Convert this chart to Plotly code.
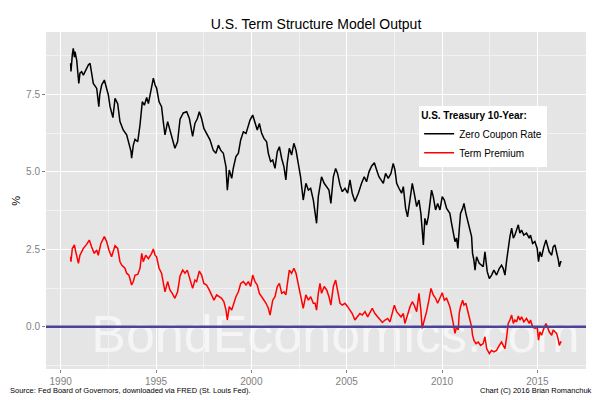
import plotly.graph_objects as go

FONT = "Liberation Sans, Arial, sans-serif"

# U.S. Treasury 10-year zero coupon rate (%)
zcr_year = [
    1990.52, 1990.54, 1990.61, 1990.66, 1990.72, 1990.75, 1990.84, 1990.90,
    1990.93, 1990.95, 1991.01, 1991.10, 1991.19, 1991.27, 1991.36, 1991.45,
    1991.54, 1991.62, 1991.71, 1991.89, 1991.97, 1992.00, 1992.05, 1992.15,
    1992.29, 1992.41, 1992.50, 1992.59, 1992.71, 1992.74, 1992.85, 1992.99,
    1993.11, 1993.28, 1993.46, 1993.55, 1993.69, 1993.72, 1993.81, 1993.90,
    1994.04, 1994.16, 1994.28, 1994.39, 1994.51, 1994.60, 1994.77, 1994.86,
    1994.95, 1995.03, 1995.16, 1995.29, 1995.38, 1995.47, 1995.61, 1995.73,
    1995.85, 1995.99, 1996.13, 1996.26, 1996.43, 1996.61, 1996.75, 1996.87,
    1996.92, 1997.04, 1997.17, 1997.27, 1997.39, 1997.51, 1997.65, 1997.83,
    1998.00, 1998.14, 1998.27, 1998.39, 1998.53, 1998.67, 1998.74, 1998.84,
    1998.97, 1999.05, 1999.19, 1999.32, 1999.44, 1999.58, 1999.72, 1999.84,
    1999.93, 2000.07, 2000.19, 2000.31, 2000.42, 2000.54, 2000.66, 2000.80,
    2000.89, 2001.01, 2001.12, 2001.24, 2001.36, 2001.47, 2001.59, 2001.71,
    2001.81, 2001.88, 2001.99, 2002.11, 2002.23, 2002.34, 2002.46, 2002.58,
    2002.72, 2002.86, 2002.99, 2003.11, 2003.25, 2003.34, 2003.42, 2003.51,
    2003.60, 2003.68, 2003.82, 2003.95, 2004.07, 2004.17, 2004.30, 2004.42,
    2004.52, 2004.65, 2004.77, 2004.91, 2005.05, 2005.17, 2005.29, 2005.43,
    2005.61, 2005.78, 2005.92, 2006.04, 2006.17, 2006.31, 2006.45, 2006.57,
    2006.69, 2006.80, 2006.92, 2007.04, 2007.18, 2007.32, 2007.44, 2007.53,
    2007.62, 2007.74, 2007.88, 2007.97, 2008.09, 2008.19, 2008.32, 2008.44,
    2008.54, 2008.67, 2008.79, 2008.89, 2008.96, 2009.02, 2009.10, 2009.19,
    2009.28, 2009.37, 2009.45, 2009.54, 2009.66, 2009.77, 2009.89, 2010.01,
    2010.12, 2010.24, 2010.41, 2010.50, 2010.59, 2010.68, 2010.76, 2010.83,
    2010.90, 2010.97, 2011.08, 2011.15, 2011.25, 2011.38, 2011.46, 2011.55,
    2011.60, 2011.67, 2011.73, 2011.81, 2011.95, 2012.07, 2012.16, 2012.25,
    2012.30, 2012.37, 2012.48, 2012.60, 2012.72, 2012.86, 2013.00, 2013.12,
    2013.21, 2013.30, 2013.39, 2013.47, 2013.56, 2013.65, 2013.74, 2013.82,
    2013.91, 2014.00, 2014.08, 2014.17, 2014.29, 2014.43, 2014.57, 2014.64,
    2014.75, 2014.87, 2014.99, 2015.06, 2015.13, 2015.22, 2015.34, 2015.45,
    2015.52, 2015.62, 2015.75, 2015.83, 2015.92, 2016.01, 2016.10, 2016.15,
    2016.22, 2016.27,
]
zcr_value = [
    8.50, 8.24, 8.77, 8.98, 8.70, 8.88, 8.60, 8.30,
    8.00, 7.85, 8.18, 8.23, 8.12, 8.23, 8.30, 8.45,
    8.50, 8.18, 7.85, 7.69, 7.32, 7.10, 7.50, 7.80,
    7.96, 7.70, 7.48, 7.10, 6.83, 6.75, 7.37, 7.20,
    6.62, 6.35, 6.19, 5.97, 5.65, 5.44, 5.86, 6.05,
    5.97, 6.51, 7.26, 7.15, 7.40, 7.20, 7.80, 8.02,
    7.80, 7.70, 7.26, 7.10, 6.62, 6.19, 6.62, 6.35,
    6.08, 5.76, 5.97, 6.70, 6.90, 6.94, 6.72, 6.35,
    6.14, 6.56, 6.72, 6.94, 6.72, 6.40, 6.24, 6.03,
    5.70, 5.60, 5.86, 5.70, 5.60, 5.16, 4.41, 5.06,
    4.79, 5.11, 5.49, 5.60, 6.03, 6.29, 6.24, 6.45,
    6.67, 6.83, 6.62, 6.35, 6.56, 6.24, 6.08, 5.97,
    5.60, 5.33, 5.38, 5.11, 5.65, 5.81, 5.43, 5.16,
    4.74, 5.27, 5.76, 5.54, 5.92, 5.70, 5.27, 4.84,
    4.09, 4.63, 4.41, 4.47, 4.09, 3.66, 3.34, 4.20,
    4.63, 4.84, 4.63, 4.52, 4.41, 3.98, 4.84, 5.11,
    4.95, 4.57, 4.36, 4.47, 4.31, 4.74, 4.31, 4.04,
    4.31, 4.63, 4.84, 4.68, 5.00, 5.19, 5.29, 5.06,
    4.84, 4.74, 4.63, 4.95, 4.79, 4.95, 5.27, 5.06,
    4.63, 4.47, 4.31, 4.52, 3.82, 3.55, 4.20, 4.63,
    4.31, 3.88, 4.09, 3.66, 3.12, 2.64, 3.50, 3.28,
    3.55, 4.04, 4.41, 4.20, 3.77, 3.98, 3.77, 4.20,
    4.09, 3.82, 3.66, 3.34, 3.02, 2.75, 2.86, 2.53,
    3.12, 3.66, 3.82, 3.98, 3.66, 3.34, 3.07, 2.91,
    2.37, 2.15, 1.83, 2.26, 2.05, 1.99, 1.94, 2.42,
    2.05, 1.78, 1.56, 1.67, 1.83, 1.67, 1.88, 1.99,
    1.88, 1.67, 2.15, 2.58, 2.91, 3.18, 2.86, 2.96,
    3.12, 3.29, 3.02, 3.12, 2.96, 3.02, 2.86, 2.96,
    2.69, 2.75, 2.53, 2.10, 2.42, 2.26, 2.58, 2.80,
    2.64, 2.42, 2.31, 2.58, 2.64, 2.42, 2.15, 1.94,
    2.10, 2.10,
]

# Term premium (%)
tp_year = [
    1990.52, 1990.54, 1990.61, 1990.72, 1990.79, 1990.93, 1991.01, 1991.19,
    1991.36, 1991.50, 1991.62, 1991.76, 1991.89, 1991.97, 1992.11, 1992.29,
    1992.41, 1992.53, 1992.67, 1992.76, 1992.85, 1992.99, 1993.11, 1993.20,
    1993.37, 1993.46, 1993.58, 1993.72, 1993.81, 1993.90, 1994.04, 1994.16,
    1994.25, 1994.33, 1994.46, 1994.60, 1994.77, 1994.86, 1994.95, 1995.03,
    1995.16, 1995.29, 1995.38, 1995.47, 1995.61, 1995.73, 1995.85, 1995.99,
    1996.13, 1996.26, 1996.40, 1996.52, 1996.64, 1996.78, 1996.92, 1997.04,
    1997.13, 1997.27, 1997.39, 1997.51, 1997.65, 1997.79, 1997.92, 1998.04,
    1998.18, 1998.32, 1998.44, 1998.56, 1998.67, 1998.74, 1998.84, 1998.97,
    1999.09, 1999.19, 1999.32, 1999.44, 1999.58, 1999.72, 1999.84, 1999.96,
    2000.07, 2000.19, 2000.31, 2000.42, 2000.54, 2000.66, 2000.77, 2000.89,
    2000.98, 2001.12, 2001.24, 2001.36, 2001.47, 2001.59, 2001.71, 2001.81,
    2001.88, 2001.99, 2002.11, 2002.23, 2002.34, 2002.46, 2002.58, 2002.72,
    2002.86, 2002.99, 2003.11, 2003.25, 2003.34, 2003.42, 2003.51, 2003.60,
    2003.68, 2003.82, 2003.95, 2004.07, 2004.17, 2004.30, 2004.42, 2004.52,
    2004.65, 2004.77, 2004.91, 2005.05, 2005.17, 2005.29, 2005.43, 2005.57,
    2005.69, 2005.82, 2005.96, 2006.10, 2006.22, 2006.34, 2006.48, 2006.62,
    2006.74, 2006.87, 2007.01, 2007.15, 2007.27, 2007.39, 2007.50, 2007.62,
    2007.74, 2007.85, 2007.97, 2008.05, 2008.19, 2008.32, 2008.44, 2008.54,
    2008.67, 2008.79, 2008.89, 2008.96, 2009.07, 2009.19, 2009.31, 2009.42,
    2009.54, 2009.66, 2009.77, 2009.89, 2010.01, 2010.12, 2010.24, 2010.41,
    2010.50, 2010.59, 2010.68, 2010.76, 2010.85, 2010.90, 2010.97, 2011.08,
    2011.15, 2011.25, 2011.38, 2011.46, 2011.55, 2011.60, 2011.67, 2011.78,
    2011.90, 2012.02, 2012.16, 2012.25, 2012.34, 2012.48, 2012.60, 2012.72,
    2012.86, 2013.00, 2013.12, 2013.21, 2013.30, 2013.39, 2013.47, 2013.56,
    2013.65, 2013.74, 2013.82, 2013.91, 2014.00, 2014.08, 2014.17, 2014.29,
    2014.43, 2014.57, 2014.64, 2014.75, 2014.87, 2014.99, 2015.06, 2015.13,
    2015.22, 2015.34, 2015.45, 2015.52, 2015.62, 2015.75, 2015.83, 2015.92,
    2016.01, 2016.10, 2016.15, 2016.22, 2016.27,
]
tp_value = [
    2.26, 2.10, 2.53, 2.64, 2.42, 2.05, 2.31, 2.53,
    2.66, 2.80, 2.58, 2.37, 2.48, 2.31, 2.69, 2.91,
    2.75, 2.48, 2.26, 2.42, 2.62, 2.53, 2.10, 1.99,
    1.89, 1.73, 1.67, 1.35, 1.46, 1.67, 1.69, 1.89,
    2.37, 2.10, 2.31, 2.20, 2.37, 2.51, 2.31, 2.26,
    1.89, 1.73, 1.46, 1.13, 1.46, 1.19, 1.08, 0.92,
    1.13, 1.64, 1.83, 1.73, 1.83, 1.56, 1.24, 1.51,
    1.46, 1.80, 1.67, 1.40, 1.35, 1.19, 1.03, 0.86,
    1.03, 0.97, 0.92, 0.81, 0.54, 0.22, 0.65, 0.54,
    0.76, 0.97, 1.13, 1.40, 1.46, 1.35, 1.46, 1.30,
    1.67, 1.46, 1.35, 1.08, 0.97, 0.86, 0.76, 0.60,
    0.38, 0.86, 0.97, 1.30, 1.40, 1.08, 1.13, 1.03,
    1.30, 1.83, 1.73, 1.89, 1.73, 1.35, 1.03, 0.60,
    1.03, 0.86, 0.97, 0.76, 0.76, 0.54, 1.08, 1.40,
    1.08, 1.30, 1.19, 0.97, 0.70, 1.30, 1.51, 1.19,
    0.76, 0.70, 0.76, 0.65, 0.54, 0.43, 0.22, 0.32,
    0.43, 0.38, 0.49, 0.32, 0.49, 0.60, 0.43, 0.32,
    0.22, 0.14, 0.22, 0.27, 0.16, 0.49, 0.70, 0.49,
    0.38, 0.32, 0.43, 0.11, 0.38, 0.65, 0.81, 0.70,
    0.49, 1.08, 0.54, -0.05, 0.22, 0.49, 0.86, 1.24,
    1.03, 0.92, 0.76, 0.92, 1.10, 0.86, 0.92, 0.65,
    0.43, 0.11, -0.21, 0.00, -0.10, 0.43, 0.65, 0.86,
    0.70, 0.76, 0.43, 0.22, 0.00, -0.27, -0.43, -0.54,
    -0.49, -0.60, -0.54, -0.32, -0.70, -0.86, -0.76, -0.81,
    -0.76, -0.60, -0.49, -0.60, -0.70, -0.32, 0.11, 0.22,
    0.38, 0.11, 0.22, 0.16, 0.35, 0.22, 0.32, 0.16,
    0.27, 0.11, 0.22, 0.00, -0.05, 0.00, -0.43, -0.16,
    -0.27, -0.05, 0.11, 0.00, -0.16, -0.27, -0.10, -0.16,
    -0.21, -0.43, -0.60, -0.49, -0.49,
]

x_range = [1989.23, 2017.55]
y_range = [-1.36, 9.51]

fig = go.Figure()
fig.add_trace(go.Scatter(
    x=zcr_year, y=zcr_value, mode="lines", name="Zero Coupon Rate",
    line=dict(color="black", width=1.5),
))
fig.add_trace(go.Scatter(
    x=tp_year, y=tp_value, mode="lines", name="Term Premium",
    line=dict(color="red", width=1.5),
))

fig.add_hline(y=0, line_color="#4B4399", line_width=2.5)

# watermark, drawn between the gridlines and the data
fig.add_shape(
    type="rect", xref="paper", yref="paper",
    x0=0.236, x1=0.836, y0=0.04, y1=0.20,
    line_width=0, fillcolor="rgba(0,0,0,0)", layer="between",
    label=dict(text="BondEconomics.com",
               font=dict(family=FONT, size=52,
                         color="rgba(255,255,255,0.6)")),
)

axis_common = dict(
    showline=False, zeroline=False, ticks="outside", ticklen=3,
    tickcolor="#7F7F7F", gridcolor="white", gridwidth=1.1,
    tickfont=dict(family=FONT, size=10, color="#7F7F7F"),
    tickmode="linear", automargin=False,
)
fig.update_xaxes(
    **axis_common, range=x_range, tick0=1990, dtick=5,
    minor=dict(showgrid=True, gridcolor="#F2F2F2", gridwidth=0.6,
               tick0=1987.5, dtick=5, ticks=""),
)
fig.update_yaxes(
    **axis_common, range=y_range, tick0=0, dtick=2.5, tickformat=".1f",
    minor=dict(showgrid=True, gridcolor="#F2F2F2", gridwidth=0.6,
               tick0=1.25, dtick=2.5, ticks=""),
)

fig.add_annotation(
    text="%", textangle=-90,
    xref="paper", yref="paper", x=-0.057, y=0.50,
    xanchor="center", yanchor="middle", showarrow=False,
    font=dict(family=FONT, size=11, color="black"),
)
fig.add_annotation(
    text="Source: Fed Board of Governors, downloaded via FRED (St. Louis Fed).",
    xref="paper", yref="paper", x=-0.07, y=-0.065,
    xanchor="left", yanchor="middle", showarrow=False,
    font=dict(family=FONT, size=7.5, color="black"),
)
fig.add_annotation(
    text="Chart (C) 2016 Brian Romanchuk",
    xref="paper", yref="paper", x=1.015, y=-0.065,
    xanchor="right", yanchor="middle", showarrow=False,
    font=dict(family=FONT, size=7.5, color="black"),
)

fig.update_layout(
    width=592, height=392,
    margin=dict(l=38, r=14, t=24, b=31),
    paper_bgcolor="white", plot_bgcolor="#E5E5E5",
    font=dict(family=FONT, color="black"),
    title=dict(text="U.S. Term Structure Model Output",
               xref="paper", x=0.5, xanchor="center",
               y=0.959, yanchor="middle",
               font=dict(family=FONT, size=14, color="black")),
    legend=dict(
        x=0.691, y=0.78, xanchor="left", yanchor="top",
        bgcolor="white", borderwidth=0,
        title=dict(text="<b>U.S. Treasury 10-Year:</b>",
                   font=dict(family=FONT, size=10)),
        font=dict(family=FONT, size=10, color="black"),
        tracegroupgap=0, itemwidth=30,
    ),
)

fig.write_html("out.html")
